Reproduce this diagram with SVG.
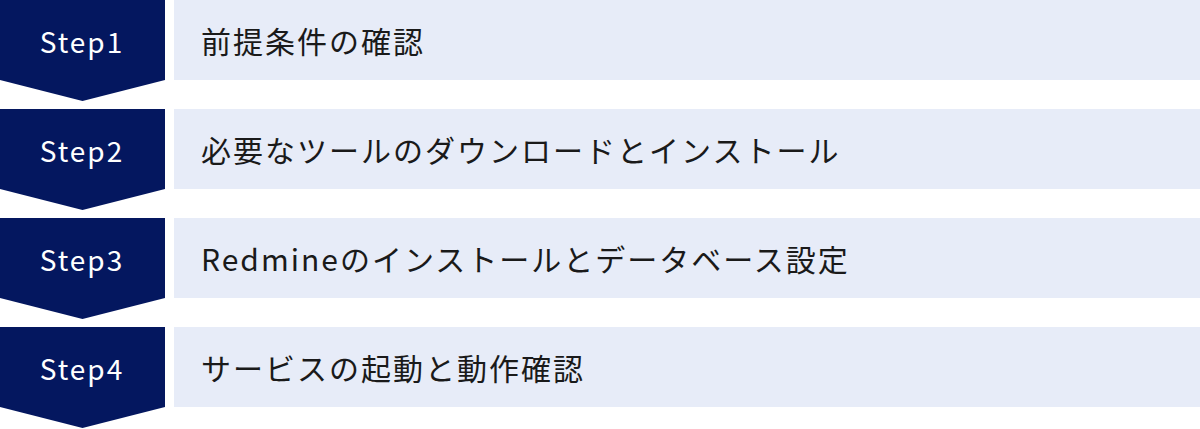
<svg xmlns="http://www.w3.org/2000/svg" width="1200" height="429" viewBox="0 0 1200 429">
<style>
.chev{fill:#04175F}
.bar{fill:#E7ECF8}
.step{font-family:"Noto Sans CJK JP","Noto Sans",sans-serif;font-size:28px;fill:#FFFFFF;text-anchor:middle;letter-spacing:2px}
.lbl{font-family:"Noto Sans CJK JP","Noto Sans",sans-serif;font-size:30px;fill:#1A1A1A;letter-spacing:2px}
</style>
<rect width="1200" height="429" fill="#FFFFFF"/>
<g id="step1">
<polygon class="chev" points="0,0 165,0 165,80 82.5,101 0,80"/>
<rect class="bar" x="174" y="0" width="1026" height="80"/>
<text class="step" x="82" y="53">Step1</text>
<text class="lbl" x="201" y="53">前提条件の確認</text>
</g>
<g id="step2">
<polygon class="chev" points="0,109 165,109 165,189 82.5,210 0,189"/>
<rect class="bar" x="174" y="109" width="1026" height="80"/>
<text class="step" x="82" y="162">Step2</text>
<text class="lbl" x="201" y="162">必要なツールのダウンロードとインストール</text>
</g>
<g id="step3">
<polygon class="chev" points="0,218 165,218 165,298 82.5,319 0,298"/>
<rect class="bar" x="174" y="218" width="1026" height="80"/>
<text class="step" x="82" y="271">Step3</text>
<text class="lbl" x="201" y="271">Redmineのインストールとデータベース設定</text>
</g>
<g id="step4">
<polygon class="chev" points="0,327 165,327 165,407 82.5,428 0,407"/>
<rect class="bar" x="174" y="327" width="1026" height="80"/>
<text class="step" x="82" y="380">Step4</text>
<text class="lbl" x="201" y="380">サービスの起動と動作確認</text>
</g>
<g id="connectors"/>
</svg>
